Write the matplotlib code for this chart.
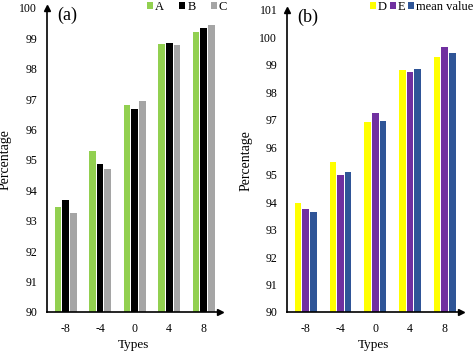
import matplotlib
matplotlib.use("Agg")
import matplotlib.pyplot as plt
import numpy as np

types = ["-8", "-4", "0", "4", "8"]
series_a = {
    "A": [93.45, 95.30, 96.81, 98.82, 99.21],
    "B": [93.68, 94.87, 96.68, 98.85, 99.34],
    "C": [93.26, 94.70, 96.94, 98.78, 99.44],
}
series_b = {
    "D": [93.96, 95.45, 96.91, 98.80, 99.27],
    "E": [93.75, 94.98, 97.24, 98.73, 99.64],
    "mean value": [93.64, 95.09, 96.95, 98.84, 99.42],
}
colors_a = ["#92D050", "#000000", "#A5A5A5"]
colors_b = ["#FFFF00", "#7030A0", "#2F5597"]

plt.rcParams["font.family"] = ["Liberation Serif", "DejaVu Serif"]

W, H = 474, 352
fig = plt.figure(figsize=(4.74, 3.52), dpi=100)
ax1 = fig.add_axes([47 / W, 1 - 312 / H, 173 / W, 304 / H])
ax2 = fig.add_axes([287 / W, 1 - 312 / H, 174 / W, 302 / H])

def draw(ax, series, colors, ylim, yticks, label, leg_x, colspace, ylab_x):
    x = np.arange(len(types))
    w = 0.19
    off = 0.22
    handles = []
    for i, ((name, vals), c) in enumerate(zip(series.items(), colors)):
        h = ax.bar(x + (i - 1) * off, np.array(vals) - ylim[0], bottom=ylim[0], width=w,
                   color=c, label=name)
        handles.append(h)
    ax.set_ylim(*ylim)
    ax.set_xlim(-0.54, 4.47)
    ax.set_yticks(yticks)
    ax.set_xticks(x)
    ax.set_xticklabels(types)
    ax.tick_params(length=0, labelsize=8.5)
    ax.tick_params(axis="x", pad=8)
    ax.tick_params(axis="y", pad=7)
    for s in ["top", "right"]:
        ax.spines[s].set_visible(False)
    ax.spines["left"].set_linewidth(1.2)
    ax.spines["bottom"].set_linewidth(1.2)
    ax.plot(0, 1, "^k", transform=ax.transAxes, clip_on=False, markersize=5)
    ax.plot(1, 0, ">k", transform=ax.transAxes, clip_on=False, markersize=5)
    ax.set_ylabel("Percentage", fontsize=10)
    ax.yaxis.set_label_coords(ylab_x, 0.5)
    ax.set_xlabel("Types", fontsize=9.5, labelpad=3)
    ax.text(0.06, 0.975, label, transform=ax.transAxes, fontsize=13, va="center", ha="left")
    fig.legend(handles=handles, loc="center left", bbox_to_anchor=(leg_x / W, 1 - 7 / H),
               ncol=3, frameon=False, handlelength=0.5, handleheight=0.5,
               handletextpad=0.15, columnspacing=colspace, fontsize=9,
               borderaxespad=0, borderpad=0)

draw(ax1, series_a, colors_a, (90, 100), range(90, 101), "(a)", 147, 1.2, -0.205)
draw(ax2, series_b, colors_b, (90, 101), range(90, 102), "(b)", 370, 0.2, -0.198)

fig.savefig("out.png", dpi=100)
